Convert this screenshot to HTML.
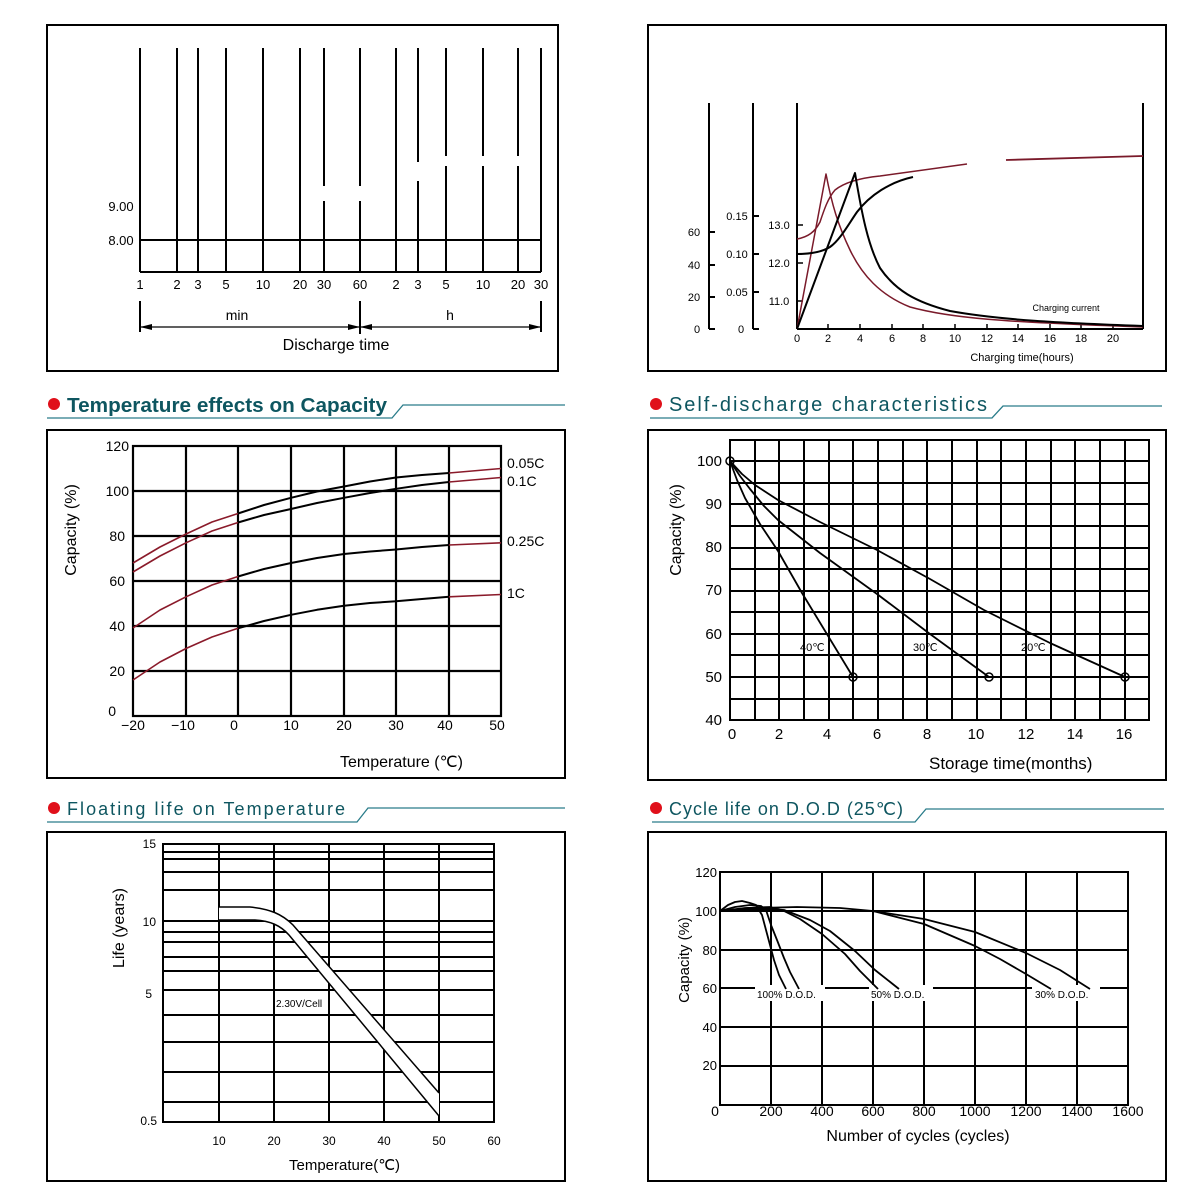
<!DOCTYPE html>
<html><head><meta charset="utf-8"><style>
html,body{margin:0;padding:0;background:#fff;}
svg{display:block;font-family:"Liberation Sans",sans-serif;}
</style></head><body>
<svg width="1200" height="1200" viewBox="0 0 1200 1200" xmlns="http://www.w3.org/2000/svg">
<rect width="1200" height="1200" fill="#fff"/>
<g fill="none" stroke="#000" stroke-width="2">
<rect x="47" y="25" width="511" height="346"/>
<rect x="648" y="25" width="518" height="346"/>
<rect x="47" y="430" width="518" height="348"/>
<rect x="648" y="430" width="518" height="350"/>
<rect x="47" y="832" width="518" height="349"/>
<rect x="648" y="832" width="518" height="349"/>
</g>

<!-- headers -->
<g fill="none" stroke="#2a7c8a" stroke-width="1.3">
<polyline points="47,418 392,418 403,405 565,405"/>
<polyline points="650,418 992,418 1003,406 1162,406"/>
<polyline points="47,822 357,822 368,808 565,808"/>
<polyline points="652,822 915,822 926,809 1164,809"/>
</g>
<g fill="#e0101a">
<circle cx="54" cy="404" r="6"/><circle cx="656" cy="404" r="6"/>
<circle cx="54" cy="808" r="6"/><circle cx="656" cy="808" r="6"/>
</g>
<g fill="#0e5660" font-size="19">
<text x="67" y="412" font-weight="bold" font-size="20" textLength="320" lengthAdjust="spacingAndGlyphs">Temperature effects on Capacity</text>
<text x="669" y="411" font-size="20" textLength="318" lengthAdjust="spacing">Self-discharge characteristics</text>
<text x="67" y="815" font-size="18" textLength="278" lengthAdjust="spacing">Floating life on Temperature</text>
<text x="669" y="815" font-size="18" textLength="234" lengthAdjust="spacing">Cycle life on D.O.D (25℃)</text>
</g>

<!-- Chart 1: discharge time -->
<g stroke="#000" stroke-width="2" fill="none">
<line x1="140" y1="48" x2="140" y2="272"/>
<line x1="177" y1="48" x2="177" y2="272"/>
<line x1="198" y1="48" x2="198" y2="272"/>
<line x1="226" y1="48" x2="226" y2="272"/>
<line x1="263" y1="48" x2="263" y2="272"/>
<line x1="300" y1="48" x2="300" y2="272"/>
<line x1="324" y1="48" x2="324" y2="186"/><line x1="324" y1="201" x2="324" y2="272"/>
<line x1="360" y1="48" x2="360" y2="186"/><line x1="360" y1="201" x2="360" y2="272"/>
<line x1="396" y1="48" x2="396" y2="272"/>
<line x1="418" y1="48" x2="418" y2="162"/><line x1="418" y1="181" x2="418" y2="272"/>
<line x1="446" y1="48" x2="446" y2="156"/><line x1="446" y1="166" x2="446" y2="272"/>
<line x1="483" y1="48" x2="483" y2="156"/><line x1="483" y1="166" x2="483" y2="272"/>
<line x1="518" y1="48" x2="518" y2="156"/><line x1="518" y1="166" x2="518" y2="272"/>
<line x1="541" y1="48" x2="541" y2="272"/>
<line x1="140" y1="240" x2="541" y2="240"/>
<line x1="140" y1="272" x2="541" y2="272"/>
<line x1="140" y1="301" x2="140" y2="332"/>
<line x1="360" y1="301" x2="360" y2="334"/>
<line x1="541" y1="301" x2="541" y2="332"/>
<line x1="140" y1="327" x2="541" y2="327" stroke-width="1.3"/>
</g>
<g fill="#000">
<polygon points="140,327 152,324 152,330"/><polygon points="360,327 348,324 348,330"/>
<polygon points="360,327 372,324 372,330"/><polygon points="541,327 529,324 529,330"/>
</g>
<g font-size="13" fill="#000" text-anchor="middle">
<text x="121" y="211">9.00</text><text x="121" y="245">8.00</text>
<text x="140" y="289">1</text><text x="177" y="289">2</text><text x="198" y="289">3</text><text x="226" y="289">5</text>
<text x="263" y="289">10</text><text x="300" y="289">20</text><text x="324" y="289">30</text><text x="360" y="289">60</text>
<text x="396" y="289">2</text><text x="418" y="289">3</text><text x="446" y="289">5</text><text x="483" y="289">10</text>
<text x="518" y="289">20</text><text x="541" y="289">30</text>
<text x="237" y="320" font-size="14">min</text><text x="450" y="320" font-size="14">h</text>
<text x="336" y="350" font-size="16">Discharge time</text>
</g>

<!-- Chart 2: charging -->
<g stroke="#000" stroke-width="2" fill="none">
<line x1="709" y1="103" x2="709" y2="329"/><line x1="709" y1="329" x2="715" y2="329"/>
<line x1="709" y1="232" x2="715" y2="232"/><line x1="709" y1="265" x2="715" y2="265"/><line x1="709" y1="297" x2="715" y2="297"/>
<line x1="753" y1="103" x2="753" y2="329"/><line x1="753" y1="329" x2="759" y2="329"/>
<line x1="753" y1="216" x2="759" y2="216"/><line x1="753" y1="254" x2="759" y2="254"/><line x1="753" y1="292" x2="759" y2="292"/>
<line x1="797" y1="103" x2="797" y2="329"/><line x1="1143" y1="103" x2="1143" y2="329"/>
<line x1="797" y1="329" x2="1143" y2="329"/>
</g>
<g stroke="#000" stroke-width="1.5">
<line x1="797" y1="225" x2="803" y2="225"/><line x1="797" y1="263" x2="803" y2="263"/><line x1="797" y1="301" x2="803" y2="301"/>
<line x1="828" y1="324" x2="828" y2="329"/><line x1="860" y1="324" x2="860" y2="329"/><line x1="892" y1="324" x2="892" y2="329"/><line x1="923" y1="324" x2="923" y2="329"/><line x1="955" y1="324" x2="955" y2="329"/><line x1="987" y1="324" x2="987" y2="329"/><line x1="1018" y1="324" x2="1018" y2="329"/><line x1="1050" y1="324" x2="1050" y2="329"/><line x1="1081" y1="324" x2="1081" y2="329"/><line x1="1113" y1="324" x2="1113" y2="329"/>
</g>
<g fill="none" stroke-linejoin="round">
<path d="M797,239 C808,237 815,232 820,222 C824,210 828,198 835,190 C845,182 860,178 880,176 C910,172 940,168 967,164" stroke="#7a1a2a" stroke-width="1.5"/>
<path d="M1006,160 L1143,156" stroke="#7a1a2a" stroke-width="1.8"/>
<path d="M797,329 L826,174 C832,205 838,225 850,250 C862,275 880,295 910,307 C950,318 1000,322 1143,327" stroke="#7a1a2a" stroke-width="1.5"/>
<path d="M797,254 C812,254 822,252 830,247 C840,240 848,225 857,212 C870,195 890,182 913,177" stroke="#000" stroke-width="2"/>
<path d="M797,329 L855,173 C862,215 868,245 880,268 C895,290 915,302 950,311 C1000,320 1060,323 1143,326" stroke="#000" stroke-width="2"/>
</g>
<g font-size="11" fill="#000" text-anchor="middle">
<text x="694" y="236">60</text><text x="694" y="269">40</text><text x="694" y="301">20</text><text x="697" y="333">0</text>
<text x="737" y="220">0.15</text><text x="737" y="258">0.10</text><text x="737" y="296">0.05</text><text x="741" y="333">0</text>
<text x="779" y="229">13.0</text><text x="779" y="267">12.0</text><text x="779" y="305">11.0</text>
<text x="797" y="342">0</text><text x="828" y="342">2</text><text x="860" y="342">4</text><text x="892" y="342">6</text><text x="923" y="342">8</text><text x="955" y="342">10</text><text x="987" y="342">12</text><text x="1018" y="342">14</text><text x="1050" y="342">16</text><text x="1081" y="342">18</text><text x="1113" y="342">20</text>
<text x="1022" y="361">Charging time(hours)</text>
<text x="1066" y="311" font-size="9">Charging current</text>
</g>

<!-- Chart 3: temperature effects -->
<g stroke="#000" stroke-width="2.2" fill="none">
<rect x="133" y="446" width="368" height="270"/>
<line x1="186" y1="446" x2="186" y2="716"/><line x1="238" y1="446" x2="238" y2="716"/><line x1="291" y1="446" x2="291" y2="716"/><line x1="344" y1="446" x2="344" y2="716"/><line x1="396" y1="446" x2="396" y2="716"/><line x1="449" y1="446" x2="449" y2="716"/>
<line x1="133" y1="491" x2="501" y2="491"/><line x1="133" y1="536" x2="501" y2="536"/><line x1="133" y1="581" x2="501" y2="581"/><line x1="133" y1="626" x2="501" y2="626"/><line x1="133" y1="671" x2="501" y2="671"/>
</g>
<g fill="none" stroke-width="1.6" stroke-linejoin="round">
<g stroke="#8a1a2a">
<polyline points="133,563 160,547 186,534 212,522 238,513.5"/>
<polyline points="449,473 501,468.5"/>
<polyline points="133,572 160,556 186,542.8 212,531 238,522.5"/>
<polyline points="449,482 501,477.5"/>
<polyline points="133,628 160,610 186,596.8 212,585 238,576.5"/>
<polyline points="449,545 501,542.8"/>
<polyline points="133,680 160,662 186,648.5 212,637 238,628.3"/>
<polyline points="449,596.8 501,594.5"/>
</g>
<g stroke="#000" stroke-width="2">
<polyline points="238,513.5 264,505 291,497.8 317,491.5 344,486.5 370,481.5 396,477.5 422,475 449,473"/>
<polyline points="238,522.5 264,515 291,509 317,503 344,497.8 370,493 396,488.8 422,485 449,482"/>
<polyline points="238,576.5 264,569 291,563 317,558 344,554 370,551.5 396,549.5 422,547 449,545"/>
<polyline points="238,628.3 264,621 291,614.8 317,609.8 344,605.8 370,603 396,601.3 422,599 449,596.8"/>
</g>
</g>
<g font-size="14" fill="#000">
<g text-anchor="end">
<text x="129" y="451">120</text><text x="129" y="496">100</text><text x="125" y="541">80</text><text x="125" y="586">60</text><text x="125" y="631">40</text><text x="125" y="676">20</text><text x="116" y="716">0</text>
</g>
<g text-anchor="middle">
<text x="133" y="730">−20</text><text x="183" y="730">−10</text><text x="234" y="730">0</text><text x="291" y="730">10</text><text x="344" y="730">20</text><text x="396" y="730">30</text><text x="445" y="730">40</text><text x="497" y="730">50</text>
</g>
<text x="507" y="468">0.05C</text><text x="507" y="486">0.1C</text><text x="507" y="546">0.25C</text><text x="507" y="598">1C</text>
<text x="340" y="767" font-size="16">Temperature (℃)</text>
<text transform="translate(76,530) rotate(-90)" text-anchor="middle" font-size="16">Capacity (%)</text>
</g>

<!-- Chart 4: self-discharge -->
<g stroke="#000" stroke-width="2" fill="none">
<rect x="730" y="440" width="419" height="280"/>
<path d="M755,440V720M779,440V720M804,440V720M829,440V720M853,440V720M878,440V720M903,440V720M927,440V720M952,440V720M977,440V720M1001,440V720M1026,440V720M1051,440V720M1075,440V720M1100,440V720M1125,440V720"/>
<path d="M730,461H1149M730,483H1149M730,504H1149M730,526H1149M730,548H1149M730,569H1149M730,591H1149M730,612H1149M730,634H1149M730,655H1149M730,677H1149M730,699H1149"/>
</g>
<g fill="none" stroke="#000" stroke-width="1.8" stroke-linejoin="round">
<polyline points="730,461 737,480 745,498 760,524 778,551 802,593 853,677"/>
<polyline points="730,461 740,476 750,489 764,506 778,520 820,553 877,594 930,634 989,677"/>
<polyline points="730,461 742,474 755,485 778,500 820,522 877,550 930,579 984,610 1050,643 1125,677"/>
<circle cx="730" cy="461" r="4" stroke-width="1.5"/>
<circle cx="853" cy="677" r="4" stroke-width="1.5"/><circle cx="989" cy="677" r="4" stroke-width="1.5"/><circle cx="1125" cy="677" r="4" stroke-width="1.5"/>
</g>
<g font-size="15" fill="#000">
<g text-anchor="end"><text x="722" y="466">100</text><text x="722" y="509">90</text><text x="722" y="552">80</text><text x="722" y="595">70</text><text x="722" y="639">60</text><text x="722" y="682">50</text><text x="722" y="725">40</text></g>
<g text-anchor="middle"><text x="732" y="739">0</text><text x="779" y="739">2</text><text x="827" y="739">4</text><text x="877" y="739">6</text><text x="927" y="739">8</text><text x="976" y="739">10</text><text x="1026" y="739">12</text><text x="1075" y="739">14</text><text x="1124" y="739">16</text></g>
<text x="929" y="769" font-size="17">Storage time(months)</text>
<g font-size="11"><text x="800" y="651">40℃</text><text x="913" y="651">30℃</text><text x="1021" y="651">20℃</text></g>
<text transform="translate(681,530) rotate(-90)" text-anchor="middle" font-size="16">Capacity (%)</text>
</g>

<!-- Chart 5: floating life -->
<g stroke="#000" stroke-width="2" fill="none">
<rect x="163" y="844" width="331" height="278"/>
<path d="M219,844V1122M274,844V1122M329,844V1122M384,844V1122M439,844V1122"/>
<path d="M163,852H494M163,859H494M163,872H494M163,890H494M163,921H494M163,932H494M163,942H494M163,957H494M163,971H494M163,990H494M163,1015H494M163,1042H494M163,1072H494M163,1102H494"/>
</g>
<path d="M219,907 L250,907 C270,909 282,914 293,925 L439,1093 L439,1116 L289,935 C280,925 270,921 255,920 L219,920 Z" fill="#fff" stroke="none"/>
<g fill="none" stroke="#000" stroke-width="1.5">
<path d="M219,907 L250,907 C270,909 282,914 293,925 L439,1093"/>
<path d="M219,920 L255,920 C270,921 280,925 289,935 L439,1116"/>
</g>
<g font-size="12" fill="#000">
<g text-anchor="end"><text x="156" y="848">15</text><text x="156" y="926">10</text><text x="152" y="998">5</text><text x="157" y="1125">0.5</text></g>
<g text-anchor="middle"><text x="219" y="1145">10</text><text x="274" y="1145">20</text><text x="329" y="1145">30</text><text x="384" y="1145">40</text><text x="439" y="1145">50</text><text x="494" y="1145">60</text></g>
<text x="276" y="1007" font-size="10">2.30V/Cell</text>
<text x="289" y="1170" font-size="15">Temperature(℃)</text>
<text transform="translate(124,928) rotate(-90)" text-anchor="middle" font-size="16">Life (years)</text>
</g>

<!-- Chart 6: cycle life -->
<g stroke="#000" stroke-width="2" fill="none">
<rect x="720" y="872" width="408" height="233"/>
<path d="M771,872V1105M822,872V1105M873,872V1105M924,872V1105M975,872V1105M1026,872V1105M1077,872V1105"/>
<path d="M720,911H1128M720,950H1128M720,988H1128M720,1027H1128M720,1066H1128"/>
</g>
<rect x="755" y="985" width="70" height="16" fill="#fff"/>
<rect x="869" y="985" width="64" height="16" fill="#fff"/>
<rect x="1032" y="985" width="68" height="16" fill="#fff"/>
<g fill="none" stroke="#000" stroke-width="1.8" stroke-linejoin="round">
<polyline points="720,911 728,905 735,902 742,901 750,903 756,905 762,915 766,930 770,945 774,960 779,975 786,989"/>
<polyline points="720,911 735,907 750,905 761,906 766,910 771,925 777,940 784,958 790,972 799,989"/>
<polyline points="720,911 745,908 770,907 784,911 800,919 822,934 845,954 860,971 878,989"/>
<polyline points="720,911 770,909 784,910 810,920 830,931 855,951 875,970 899,989"/>
<polyline points="720,911 760,908 797,907 840,908 873,911 924,924 975,946 1000,959 1026,974 1051,989"/>
<polyline points="873,911 924,919 975,932 1026,953 1060,970 1090,989"/>
</g>
<g font-size="10" fill="#000">
<text x="757" y="998">100% D.O.D.</text><text x="871" y="998">50% D.O.D.</text><text x="1035" y="998">30% D.O.D.</text>
</g>
<g font-size="13" fill="#000">
<g text-anchor="end"><text x="717" y="877">120</text><text x="717" y="916">100</text><text x="717" y="955">80</text><text x="717" y="993">60</text><text x="717" y="1032">40</text><text x="717" y="1070">20</text></g>
<g text-anchor="middle" font-size="14"><text x="715" y="1116">0</text><text x="771" y="1116">200</text><text x="822" y="1116">400</text><text x="873" y="1116">600</text><text x="924" y="1116">800</text><text x="975" y="1116">1000</text><text x="1026" y="1116">1200</text><text x="1077" y="1116">1400</text><text x="1128" y="1116">1600</text></g>
<text x="918" y="1141" text-anchor="middle" font-size="16">Number of cycles (cycles)</text>
<text transform="translate(689,960) rotate(-90)" text-anchor="middle" font-size="15">Capacity (%)</text>
</g>
</svg>
</body></html>
